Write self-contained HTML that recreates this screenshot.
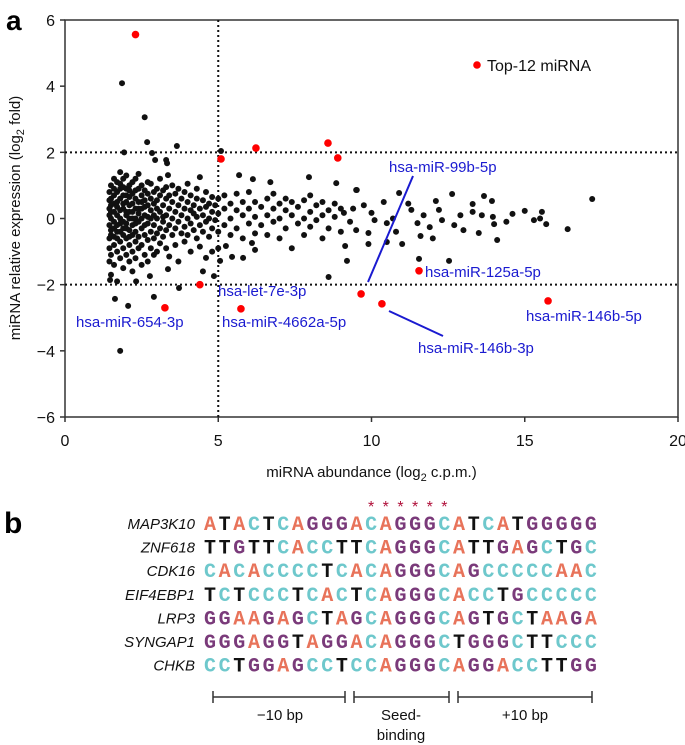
<!DOCTYPE html>
<html><head><meta charset="utf-8"><style>
html,body{margin:0;padding:0;background:#fff;}
svg{display:block;font-family:"Liberation Sans",Arial,sans-serif;}
</style></head><body>
<svg id="fig" width="685" height="745" viewBox="0 0 685 745" xmlns="http://www.w3.org/2000/svg">
<text x="6" y="30" font-size="28" font-weight="bold">a</text>
<text x="4" y="533" font-size="30" font-weight="bold">b</text>
<g id="plot"></g>
<g id="seq"></g>
</svg>
<script>
const xTicks = [0,5,10,15,20];
const yTicks = [6,4,2,0,-2,-4,-6];
const yTickLabels = ["6","4","2","0","\u22122","\u22124","\u22126"];
const topAbundance = [2.3,5.09,6.23,8.58,8.9,4.4,3.26,5.74,9.66,10.34,11.55,15.76];
const topFold = [5.56,1.8,2.13,2.28,1.83,-2.0,-2.7,-2.73,-2.28,-2.58,-1.58,-2.49];
const cloudColumns = [
[1.45,[0.3,-0.2,0.8,-0.9,0.1,-1.3,0.55,-0.6]],
[1.5,[0.6,-0.5,1.0,0.0,-1.1,0.4,-1.7,0.2,-0.35]],
[1.6,[1.2,0.2,-0.3,0.7,-0.8,0.9,-0.1,-1.4,0.45,-0.55]],
[1.7,[0.5,-0.6,1.1,0.1,-0.2,0.8,-1.0,0.35,-1.9,-0.4]],
[1.8,[1.4,0.0,-0.4,0.6,0.9,-0.7,0.25,-1.2,1.05,-0.15]],
[1.9,[0.3,-0.1,0.7,-0.5,1.2,-0.9,0.45,-1.5,0.95,-0.3]],
[2.0,[0.1,-0.3,0.9,0.5,-0.6,1.3,-1.1,0.2,-0.15,0.7]],
[2.1,[0.4,-0.8,0.0,1.0,0.65,-0.35,-1.3,0.85,0.2,-0.55]],
[2.2,[0.2,-0.5,0.75,1.1,-0.2,-1.0,0.45,-1.6,0.0]],
[2.3,[0.0,0.6,-0.7,0.3,1.2,-0.4,-1.2,0.85,-0.15]],
[2.4,[0.5,-0.1,0.9,-0.55,0.15,-0.9,1.35,0.3]],
[2.5,[0.3,-0.3,0.7,-0.8,1.0,0.0,-1.4,0.5]],
[2.6,[0.1,0.55,-0.5,0.85,-1.1,-0.2,0.35]],
[2.7,[0.4,-0.15,0.75,-0.65,0.05,-1.3,1.1]],
[2.8,[0.25,-0.4,0.6,1.05,-0.9,0.0]],
[2.9,[0.45,-0.2,0.8,-0.6,0.1,-1.1]],
[3.0,[0.0,0.55,-0.45,0.9,-1.0,0.3]],
[3.1,[0.2,-0.3,0.7,-0.75,1.2]],
[3.2,[0.4,-0.1,0.85,-0.55,0.05]],
[3.3,[0.1,0.6,-0.35,-0.9,0.95]],
[3.4,[0.3,-0.2,0.7,-1.15]],
[3.5,[0.0,0.5,-0.5,1.0]],
[3.6,[0.2,-0.3,0.75,-0.8]],
[3.7,[0.4,-0.1,0.9,-1.3]],
[3.8,[0.1,0.6,-0.45]],
[3.9,[0.3,-0.25,0.8,-0.7]],
[4.0,[0.0,0.5,-0.5,1.05]],
[4.1,[0.25,-0.15,0.7,-1.0]],
[4.2,[0.4,-0.35,0.15]],
[4.3,[0.05,0.6,-0.6,0.9]],
[4.4,[0.3,-0.2,-0.85]],
[4.5,[0.1,0.55,-0.4]],
[4.6,[0.35,-0.1,0.8]],
[4.7,[0.0,0.45,-0.55]],
[4.8,[0.2,-0.3,0.65,-1.0]],
[4.9,[0.4,-0.05]],
[5.0,[0.15,0.6,-0.4,-0.9]],
[5.2,[0.3,-0.2,0.7]],
[5.4,[0.0,0.45,-0.5]],
[5.6,[0.25,-0.3,0.75]],
[5.8,[0.1,0.5,-0.6]],
[6.0,[0.3,-0.15,0.8]],
[6.2,[0.05,0.5,-0.45,-0.95]],
[6.4,[0.35,-0.2]],
[6.6,[0.1,0.6,-0.5]],
[6.8,[0.3,-0.1,0.75]],
[7.0,[0.0,0.45,-0.6]],
[7.2,[0.25,-0.3,0.6]],
[7.4,[0.1,0.5,-0.9]],
[7.6,[0.35,-0.15]],
[7.8,[0.0,0.55,-0.5]],
[8.0,[0.2,-0.25,0.7]],
[8.2,[0.4,-0.05]],
[8.4,[0.1,0.5,-0.6]],
[8.6,[0.25,-0.3]],
[8.8,[0.05,0.45]],
[9.0,[0.3,-0.4]]
];
const outlierPoints = [
[1.86,4.09],[2.6,3.06],[2.68,2.31],[1.93,2.0],[3.65,2.19],[2.84,1.98],[2.94,1.77],[3.3,1.77],[3.33,1.67],[3.36,1.31],
[4.4,1.25],[5.09,2.04],[5.68,1.31],[6.13,1.19],[6.7,1.1],[7.96,1.25],[8.85,1.07],[9.5,0.86],
[9.14,-0.83],[9.2,-1.28],[8.6,-1.77],[3.72,-2.1],[1.63,-2.43],[2.06,-2.64],[2.9,-2.37],
[1.47,-1.86],[2.32,-1.9],[2.77,-1.74],[3.36,-1.53],[4.5,-1.6],[4.86,-1.74],[4.6,-1.19],[5.06,-1.28],[5.45,-1.16],[5.81,-1.19],
[5.25,-0.83],[6.1,-0.74],[1.8,-4.0],
[9.52,0.86],[10.9,0.77],[12.63,0.74],[13.67,0.68],[13.93,0.53],[17.2,0.59],[12.1,0.53],[13.3,0.44],[10.4,0.5],[11.3,0.26],[12.2,0.26],
[14.6,0.14],[15.0,0.23],[15.56,0.2],[15.5,0.0],[15.3,-0.05],[15.7,-0.17],[16.4,-0.32],[14.0,-0.17],[14.1,-0.65],[13.5,-0.44],[13.0,-0.35],
[12.7,-0.2],[12.3,-0.05],[11.9,-0.26],[11.6,-0.53],[11.5,-0.14],[11.0,-0.77],[10.5,-0.71],[9.9,-0.77],[11.55,-1.22],[12.53,-1.28],
[9.5,-0.35],[10.5,-0.14],[9.9,-0.44],[10.1,-0.05],[10.7,0.0],[11.7,0.1],[13.3,0.2],[13.6,0.1],[13.96,0.05],[9.75,0.4],[10.0,0.17],[9.4,0.3],[9.1,0.17],
[11.2,0.45],[12.9,0.1],[14.4,-0.1],[10.8,-0.4],[12.0,-0.6],[9.3,-0.1]
];
const labelTexts = ["hsa-miR-99b-5p","hsa-miR-125a-5p","hsa-miR-146b-5p","hsa-miR-146b-3p","hsa-let-7e-3p","hsa-miR-654-3p","hsa-miR-4662a-5p"];
const labelAnchorX = [389,425,526,418,218,76,222];
const labelAnchorY = [167,272,316,348,291,322,322];

const NS="http://www.w3.org/2000/svg";
const X0=65,X1=678,Y0=20,Y1=417;
const sx=v=>X0+(v-0)/(20-0)*(X1-X0);
const sy=v=>Y1-(v-(-6))/(12)*(Y1-Y0);
function mk(tag,attrs,parent){const e=document.createElementNS(NS,tag);for(const k in attrs)e.setAttribute(k,attrs[k]);parent.appendChild(e);return e;}
const plot=document.getElementById('plot');

const frame=mk('rect',{x:X0,y:Y0,width:X1-X0,height:Y1-Y0,fill:'none',stroke:'#333','stroke-width':1.5},plot);


[2,-2].forEach(v=>{const l=mk('line',{x1:X0,x2:X1,y1:sy(v),y2:sy(v),stroke:'#111','stroke-width':2,'stroke-dasharray':'2 3'},plot);

});
const vl=mk('line',{x1:sx(5),x2:sx(5),y1:Y0,y2:Y1,stroke:'#111','stroke-width':2,'stroke-dasharray':'2 3'},plot);


xTicks.forEach(t=>{
 const l=mk('line',{x1:sx(t),x2:sx(t),y1:Y1,y2:Y1+5,stroke:'#333','stroke-width':1.5},plot);
 
 
 const tx=mk('text',{x:sx(t),y:Y1+29,'font-size':16,'text-anchor':'middle',fill:'#111'},plot);tx.textContent=t;
 
 
});
yTicks.forEach((t,i)=>{
 const l=mk('line',{x1:X0-5,x2:X0,y1:sy(t),y2:sy(t),stroke:'#333','stroke-width':1.5},plot);
 
 
 const tx=mk('text',{x:X0-10,y:sy(t)+6,'font-size':16,'text-anchor':'end',fill:'#111'},plot);tx.textContent=yTickLabels[i];
 
 
});
const xt=mk('text',{x:(X0+X1)/2,y:477,'font-size':15,'text-anchor':'middle',fill:'#111'},plot);
xt.innerHTML='miRNA abundance (log<tspan font-size="11" dy="4">2</tspan><tspan dy="-4"> c.p.m.)</tspan>';


const yt=mk('text',{x:0,y:0,'font-size':15,'text-anchor':'middle',fill:'#111',transform:'translate(20,218) rotate(-90)'},plot);
yt.innerHTML='miRNA relative expression (log<tspan font-size="11" dy="4">2</tspan><tspan dy="-4"> fold)</tspan>';



const pts=[];
cloudColumns.forEach(c=>c[1].forEach(y=>pts.push([c[0],y])));
outlierPoints.forEach(p=>pts.push(p));
pts.forEach(p=>{const c=mk('circle',{cx:sx(p[0]),cy:sy(p[1]),r:3,fill:'#111'},plot);

});
const l1=mk('line',{x1:413,y1:176,x2:368,y2:282,stroke:'#1a1ad0','stroke-width':2},plot);


const l2=mk('line',{x1:389,y1:311,x2:443,y2:336,stroke:'#1a1ad0','stroke-width':2},plot);


topAbundance.forEach((x,i)=>{const c=mk('circle',{cx:sx(x),cy:sy(topFold[i]),r:3.8,fill:'#f00'},plot);

});
labelTexts.forEach((t,i)=>{const tx=mk('text',{x:labelAnchorX[i],y:labelAnchorY[i]+5,'font-size':15,fill:'#1a1ad0'},plot);tx.textContent=t;

});
const lg=mk('g',{},plot);


mk('circle',{cx:477,cy:65,r:3.8,fill:'#f00'},lg);
const lt=mk('text',{x:487,y:71,'font-size':16,fill:'#111'},lg);lt.textContent='Top-12 miRNA';

const genes=["MAP3K10","ZNF618","CDK16","EIF4EBP1","LRP3","SYNGAP1","CHKB"];
const seqs=["ATACTCAGGGACAGGGCATCATGGGGG","TTGTTCACCTTCAGGGCATTGAGCTGC","CACACCCCTCACAGGGCAGCCCCCAAC","TCTCCCTCACTCAGGGCACCTGCCCCC","GGAAGAGCTAGCAGGGCAGTGCTAAGA","GGGAGGTAGGACAGGGCTGGGCTTCCC","CCTGGAGCCTCCAGGGCAGGACCTTGG"];
const col={A:'#e8735a',C:'#6ec8cc',G:'#7a3a7a',T:'#111'};
const seq=document.getElementById('seq');
const LX0=210,PITCH=14.65,RY0=523,RSTEP=23.6;
genes.forEach((g,r)=>{
 const y=RY0+r*RSTEP+6;
 const gt=mk('text',{x:195,y:y,'font-size':15,'font-style':'italic','text-anchor':'end',fill:'#111'},seq);gt.textContent=g;
 
 
 [...seqs[r]].forEach((ch,i)=>{const t=mk('text',{x:LX0+i*PITCH,y:y+1,'font-size':20,'font-weight':'bold','font-family':'"Liberation Mono",monospace','text-anchor':'middle',fill:col[ch]},seq);t.textContent=ch;
 
 });
});
for(let i=11;i<=16;i++){const s=mk('text',{x:LX0+i*PITCH,y:512,'font-size':16,'text-anchor':'middle',fill:'#b0103a'},seq);s.textContent='*';

}
[[213,345],[354,449],[458,592]].forEach(b=>{
 const g=mk('g',{stroke:'#333','stroke-width':1.5},seq);
 
 
 mk('line',{x1:b[0],x2:b[1],y1:697,y2:697},g);
 mk('line',{x1:b[0],x2:b[0],y1:691,y2:703},g);
 mk('line',{x1:b[1],x2:b[1],y1:691,y2:703},g);
});
[["\u221210 bp",280,720],["Seed-",401,720],["binding",401,740],["+10 bp",525,720]].forEach(a=>{
 const t=mk('text',{x:a[1],y:a[2],'font-size':15,'text-anchor':'middle',fill:'#111'},seq);t.textContent=a[0];
 
 
});
</script>
</body></html>
